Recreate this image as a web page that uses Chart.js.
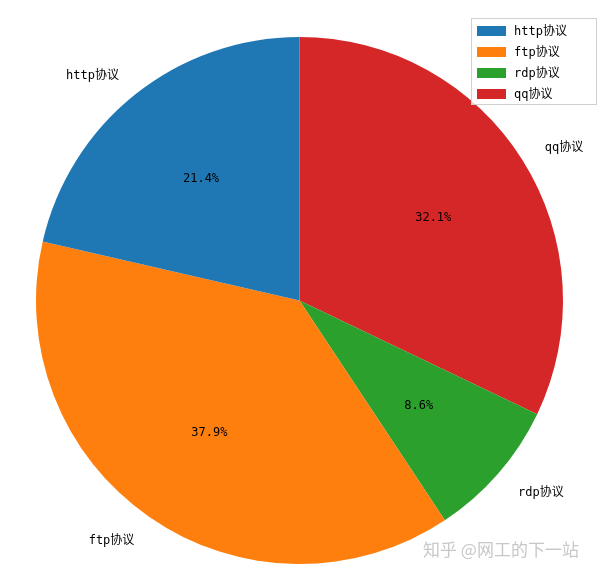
<!DOCTYPE html>
<html>
<head>
<meta charset="utf-8">
<script src="https://cdn.jsdelivr.net/npm/chart.js@4.4.0/dist/chart.umd.min.js"></script>
<style>
  html, body { margin: 0; padding: 0; background: #fff; }
  #wrap { width: 600px; height: 576px; position: relative; }
</style>
</head>
<body>
<div id="wrap"><canvas id="pie"></canvas></div>
<script>
// pie data (matplotlib autopct values)
const categories = ['http协议', 'ftp协议', 'rdp协议', 'qq协议'];
const shares = [21.4, 37.9, 8.6, 32.1];
const colors = ['#1f77b4', '#ff7f0e', '#2ca02c', '#d62728'];
const watermark = '知乎 @网工的下一站';

const FONT = '"DejaVu Sans Mono", "Noto Sans CJK SC", monospace';

/* matplotlib draws counterclockwise from the top, Chart.js clockwise,
 * so feed the slices in reverse order */
const order = categories.map((c, i) => i).reverse();

// labels outside at 1.1r, percents at 0.6r, legend box, watermark
const pieText = {
    id: 'pieText',
    afterDatasetsDraw(chart) {
        const ctx = chart.ctx;
        const meta = chart.getDatasetMeta(0);
        const total = shares.reduce((a, b) => a + b, 0);
        const dy = 2; // canvas 'middle' sits a bit high for CJK
        ctx.save();
        ctx.font = '12px ' + FONT;
        ctx.fillStyle = '#000';
        ctx.textBaseline = 'middle';
        meta.data.forEach((arc, j) => {
            const i = order[j];
            const p = arc.getProps(['x', 'y', 'startAngle', 'endAngle', 'outerRadius'], true);
            const mid = (p.startAngle + p.endAngle) / 2;
            const c = Math.cos(mid), s = Math.sin(mid);
            // percent
            ctx.textAlign = 'center';
            ctx.fillText((shares[i] / total * 100).toFixed(1) + '%', p.x + c * p.outerRadius * 0.6, p.y + s * p.outerRadius * 0.6 + dy);
            // category label
            ctx.textAlign = c >= 0 ? 'left' : 'right';
            ctx.fillText(categories[i], p.x + c * p.outerRadius * 1.1, p.y + s * p.outerRadius * 1.1 + dy);
        });

        // legend
        const lx = 471, ly = 18, lw = 126, lh = 87;
        ctx.globalAlpha = 0.8;
        ctx.fillStyle = '#fff';
        ctx.fillRect(lx, ly, lw, lh);
        ctx.globalAlpha = 1;
        ctx.strokeStyle = '#d0d0d0';
        ctx.lineWidth = 1;
        ctx.strokeRect(lx + 0.5, ly + 0.5, lw - 1, lh - 1);
        ctx.textAlign = 'left';
        categories.forEach((c, i) => {
            const y = ly + 13 + i * 21;
            ctx.fillStyle = colors[i];
            ctx.fillRect(lx + 6, y - 5, 29, 10);
            ctx.fillStyle = '#000';
            ctx.fillText(c, lx + 43, y + 1);
        });

        // watermark
        ctx.font = '17px "Noto Sans CJK SC", sans-serif';
        ctx.fillStyle = '#c8c8c8';
        ctx.fillText(watermark, 423, 550);
        ctx.restore();
    }
};

new Chart(document.getElementById('pie'), {
    type: 'pie',
    data: {
        labels: order.map(i => categories[i]),
        datasets: [{
            data: order.map(i => shares[i]),
            backgroundColor: order.map(i => colors[i]),
            borderWidth: 0,
        }]
    },
    options: {
        responsive: true,
        maintainAspectRatio: false,
        animation: false,
        layout: { padding: { left: 36, right: 37, top: 37, bottom: 12 } },
        plugins: {
            legend: { display: false },
            tooltip: { enabled: false },
        },
    },
    plugins: [pieText],
});
</script>
</body>
</html>
